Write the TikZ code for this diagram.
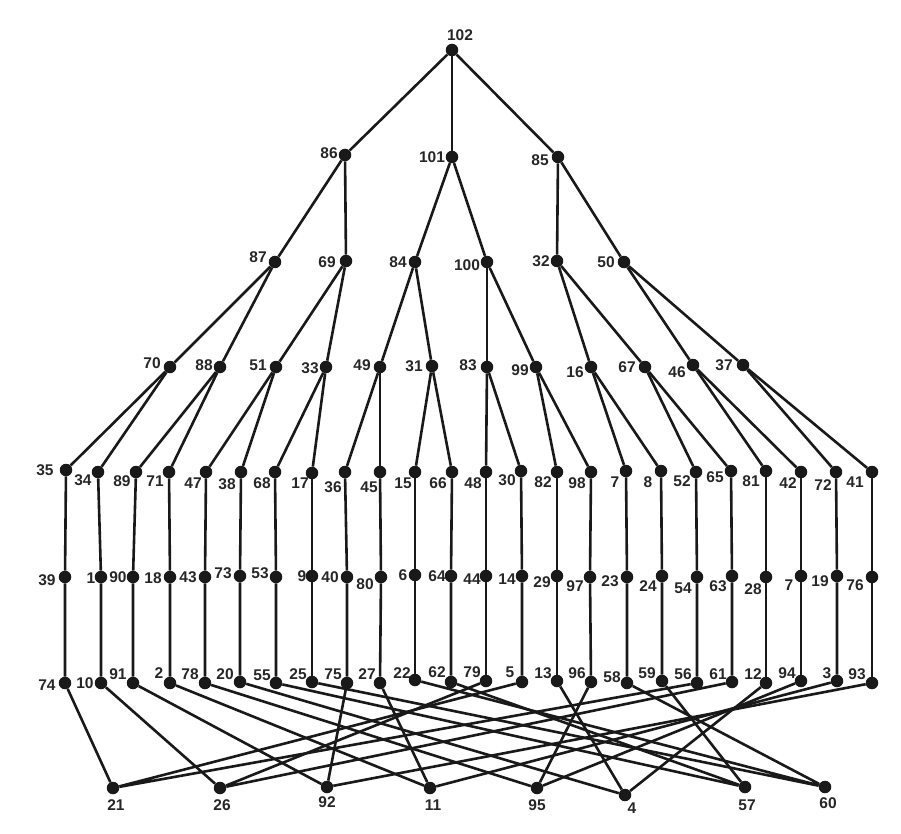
\documentclass[tikz,border=0pt]{standalone}
\usepackage{fontspec}
\setmainfont{Liberation Sans}
\begin{document}
\begin{tikzpicture}[x=1pt,y=-1pt,
  dot/.style={circle,fill=black!90,inner sep=0pt,minimum size=12.5pt},
  lbl/.style={font=\fontsize{15.5}{15.5}\selectfont\bfseries,text=black!85,inner sep=0pt},
  edge/.style={line width=2.6pt,black!90}]
\useasboundingbox (0,0) rectangle (901,834);
\foreach \n/\x/\y/\dx/\dy in {102/452/50/8/-15,
  86/345/155/-16/-2, 101/452/157/-20/0, 85/558/157/-18/3,
  87/275/262/-17/-5, 69/346/261/-19/1, 84/415/262/-17/0, 100/487/262/-20/3, 32/557/261/-16/0, 50/624/262/-18/0,
  70/170/367/-18/-4, 88/220/367/-16/-2, 51/276/367/-18/-2, 33/326/367/-16/1, 49/380/367/-18/-2, 31/432/366/-18/0,
  83/487/367/-19/-2, 99/536/367/-16/3, 16/591/367/-16/5, 67/645/367/-18/0, 46/693/365/-16/7, 37/743/365/-19/0,
  35/66/470/-21/0, 34/98/472/-15/8, 89/136/472/-14/9, 71/169/472/-14/9, 47/206/472/-13/11, 38/241/472/-14/12,
  68/275/472/-13/11, 17/312/473/-12/10, 36/345/472/-12/15, 45/380/472/-11/15, 15/415/472/-12/11, 66/452/472/-14/11,
  48/486/472/-13/11, 30/521/471/-14/9, 82/557/472/-14/10, 98/591/472/-14/11, 7/626/471/-11/11, 8/661/471/-13/11,
  52/696/472/-14/9, 65/731/471/-16/6, 81/766/471/-15/10, 42/801/472/-13/11, 72/836/472/-13/13, 41/872/472/-17/10,
  39/65/577/-18/3, 1/101/577/-10/1, 90/133/577/-15/0, 18/170/577/-17/1, 43/205/577/-17/0, 73/240/576/-17/-3,
  53/276/577/-16/-4, 9/312/576/-10/0, 40/347/577/-17/0, 80/381/577/-16/7, 6/415/575/-12/0, 64/451/576/-14/0,
  44/486/576/-14/3, 14/522/576/-15/3, 29/557/576/-15/6, 97/590/577/-15/9, 23/627/577/-17/4, 24/662/576/-14/10,
  54/697/577/-14/11, 63/732/576/-14/10, 28/766/577/-13/12, 19/837/576/-17/5, 76/872/577/-17/8,
  74/65/683/-18/2, 10/101/683/-16/0, 91/133/683/-15/-9, 2/170/683/-11/-10, 78/205/683/-15/-9, 20/240/682/-15/-8,
  55/276/683/-14/-8, 25/312/682/-14/-8, 75/347/683/-14/-9, 27/380/683/-13/-9, 22/415/680/-13/-7, 62/451/682/-14/-10,
  79/486/681/-14/-9, 5/522/682/-12/-10, 13/557/681/-14/-8, 96/591/682/-14/-9, 58/627/683/-15/-6, 59/662/681/-15/-8,
  56/697/683/-14/-9, 61/732/682/-14/-8, 12/766/683/-13/-9, 94/801/681/-14/-8, 3/837/681/-10/-8, 93/872/683/-15/-9,
  21/113/788/3/17, 26/220/788/2/17, 92/327/787/0/15, 11/430/788/3/17, 95/537/788/0/17, 4/625/795/7/13,
  57/745/787/2/18, 60/825/787/3/16}
  \node[dot,label={[lbl,shift={(\dx,\dy)}]center:\n}] (n\n) at (\x,\y) {};
\node[dot,label={[lbl,shift={(-12,9)}]center:7}] (n77) at (801,576) {};
\foreach \a/\b in {102/86,102/101,102/85, 86/87,86/69, 101/84,101/100, 85/32,85/50,
  87/70,87/88, 69/51,69/33, 84/49,84/31, 100/83,100/99, 32/16,32/67, 50/46,50/37,
  70/35,70/34, 88/89,88/71, 51/47,51/38, 33/68,33/17, 49/36,49/45, 31/15,31/66,
  83/48,83/30, 99/82,99/98, 16/7,16/8, 67/52,67/65, 46/81,46/42, 37/72,37/41}
  \draw[edge] (n\a) -- (n\b);
\foreach \a/\b/\c in {35/39/74, 34/1/10, 89/90/91, 71/18/2, 47/43/78, 38/73/20, 68/53/55, 17/9/25,
  36/40/75, 45/80/27, 15/6/22, 66/64/62, 48/44/79, 30/14/5, 82/29/13, 98/97/96,
  7/23/58, 8/24/59, 52/54/56, 65/63/61, 81/28/12, 42/77/94, 72/19/3, 41/76/93}
  \draw[edge] (n\a) -- (n\b) -- (n\c);
\foreach \t/\a/\b/\c in {21/74/5/56, 26/10/79/61, 92/91/75/93, 11/2/27/3,
  95/96/94/78, 4/13/12/20, 57/59/55/62, 60/58/25/22}
  \draw[edge] (n\a) -- (n\t) (n\b) -- (n\t) (n\c) -- (n\t);
\end{tikzpicture}
\end{document}
